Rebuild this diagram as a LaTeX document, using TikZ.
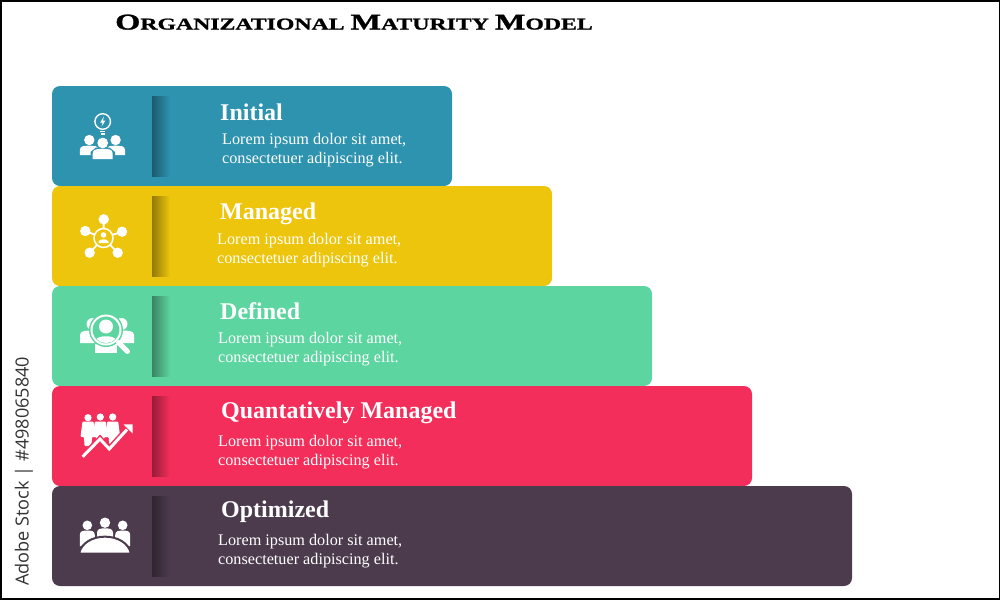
\documentclass[tikz,border=0pt]{standalone}
\usepackage{fontspec}
\usepackage{tikz}
\usetikzlibrary{positioning}
\setmainfont{Liberation Serif}
\newfontfamily\headfont{Liberation Serif Bold}[FakeStretch=1.44, FakeBold=1.2]
\newfontfamily\stockfont{Open Sans}

\definecolor{tealbar}{HTML}{2D93AF}
\definecolor{yellowbar}{HTML}{ECC50C}
\definecolor{greenbar}{HTML}{5DD5A0}
\definecolor{redbar}{HTML}{F42E5A}
\definecolor{plumbar}{HTML}{4C3B4D}

\tikzset{
  tier/.style={rectangle, rounded corners=8pt, minimum height=100pt, inner sep=0pt, outer sep=0pt},
  band/.style={rectangle, minimum width=18pt, minimum height=80pt, inner sep=0pt, outer sep=0pt},
  heading/.style={anchor=base west, inner sep=0pt, text=white, font=\fontsize{24}{24}\selectfont\bfseries},
  lorem/.style={anchor=west, inner sep=0pt, text=white, align=left, font=\fontsize{16.2}{19}\selectfont}
}

% head and shoulders of one person: x, y of the head, head radius, half width, body bottom
\newcommand{\personicon}[5]{
  \fill[white] (#1,#2) circle (#3);
  \fill[white] ({#1-#4},#5) -- ({#1-#4},{#2+#3+5}) .. controls ({#1-#4},{#2+#3+0.5}) and ({#1-#4*0.5},{#2+#3+0.5}) .. (#1,{#2+#3+0.5})
    .. controls ({#1+#4*0.5},{#2+#3+0.5}) and ({#1+#4},{#2+#3+0.5}) .. ({#1+#4},{#2+#3+5}) -- ({#1+#4},#5) -- cycle;
}
% standing figure of the rising group
\newcommand{\figureicon}[3]{
  \fill[white] (#1,#2) circle (3.6);
  \fill[white, rounded corners=1pt] ({#1-5.5},421.5) -- ({#1+5.5},421.5) -- ({#1+7.5},437) -- ({#1+4},437) -- ({#1+3.5},#3) -- ({#1-3.5},#3) -- ({#1-4},437) -- ({#1-7.5},437) -- cycle;
}

\begin{document}
\begin{tikzpicture}[x=1pt, y=-1pt]
  \useasboundingbox (0,0) rectangle (1000,600);

  % Stacked tiers
  \node (initial) [tier, fill=tealbar, minimum width=400pt, anchor=north west] at (52,86) {};
  \node (managed) [tier, fill=yellowbar, minimum width=500pt, below=0pt of initial.south west, anchor=north west] {};
  \node (defined) [tier, fill=greenbar, minimum width=600pt, below=0pt of managed.south west, anchor=north west] {};
  \node (quantitative) [tier, fill=redbar, minimum width=700pt, below=0pt of defined.south west, anchor=north west] {};
  \node (optimized) [tier, fill=plumbar, minimum width=800pt, below=0pt of quantitative.south west, anchor=north west] {};

  % Shaded bands
  \node (initialband) [band, right=100pt of initial.west, anchor=west, left color=tealbar!62!black, middle color=tealbar!78!black, right color=tealbar] {};
  \node (managedband) [band, right=100pt of managed.west, anchor=west, left color=yellowbar!62!black, middle color=yellowbar!78!black, right color=yellowbar] {};
  \node (definedband) [band, right=100pt of defined.west, anchor=west, left color=greenbar!62!black, middle color=greenbar!78!black, right color=greenbar] {};
  \node (quantitativeband) [band, right=100pt of quantitative.west, anchor=west, left color=redbar!62!black, middle color=redbar!78!black, right color=redbar] {};
  \node (optimizedband) [band, right=100pt of optimized.west, anchor=west, left color=plumbar!62!black, middle color=plumbar!78!black, right color=plumbar] {};

  % Title and stock line
  \node (title) [anchor=base west, inner sep=0pt, font=\headfont\fontsize{16.5}{16}\selectfont] at (115,29.5)
    {{\fontsize{22.5}{20}\selectfont O}RGANIZATIONAL {\fontsize{22.5}{20}\selectfont M}ATURITY {\fontsize{22.5}{20}\selectfont M}ODEL};
  \node (stock) [rotate=90, anchor=west, inner sep=0pt, text=black!80, font=\stockfont\fontsize{18.1}{18}\selectfont] at (24,586) {Adobe Stock | \#498065840};

  % Headings and body texts
  \node (initialhead) [heading] at (220,120) {Initial};
  \node (initialtext) [lorem] at (222,150) {Lorem ipsum dolor sit amet,\\consectetuer adipiscing elit.};
  \node (managedhead) [heading] at (220,219) {Managed};
  \node (managedtext) [lorem] at (217,250) {Lorem ipsum dolor sit amet,\\consectetuer adipiscing elit.};
  \node (definedhead) [heading] at (220,319) {Defined};
  \node (definedtext) [lorem] at (218,349) {Lorem ipsum dolor sit amet,\\consectetuer adipiscing elit.};
  \node (quantitativehead) [heading] at (221,418) {Quantatively Managed};
  \node (quantitativetext) [lorem] at (218,452) {Lorem ipsum dolor sit amet,\\consectetuer adipiscing elit.};
  \node (optimizedhead) [heading] at (221,517) {Optimized};
  \node (optimizedtext) [lorem] at (218,551) {Lorem ipsum dolor sit amet,\\consectetuer adipiscing elit.};

  % Icon: bulb over a group
  \draw[white, line width=1.4pt] (102.7,121.5) circle (7.8);
  \fill[white] (100.2,130.5) rectangle (105.2,132.2);
  \fill[white] (101,133.2) rectangle (104.5,134.8);
  \fill[white] (103.8,116.5) -- (100.2,122.5) -- (102.6,122.5) -- (101.6,126.5) -- (105.4,120.5) -- (103,120.5) -- cycle;
  \personicon{89.3}{140}{5.2}{9.5}{155}
  \personicon{115.6}{140}{5.2}{9.5}{155}
  \fill[tealbar] (102.7,143) circle (6.8);
  \fill[tealbar] (90.5,160) -- (90.5,152) -- (96,147.5) -- (109.5,147.5) -- (115,152) -- (115,160) -- cycle;
  \personicon{102.7}{143}{5.4}{10}{159}

  % Icon: linked network
  \draw[white, line width=1.8pt] (103.5,238) -- (103.7,219.3) (103.5,238) -- (85.3,231) (103.5,238) -- (122,231.7) (103.5,238) -- (89.7,252.7) (103.5,238) -- (117.7,252.7);
  \foreach \hubx/\huby in {103.7/219.3, 85.3/231, 122/231.7, 89.7/252.7, 117.7/252.7}
    \fill[white] (\hubx,\huby) circle (5.2);
  \fill[yellowbar] (103.5,238) circle (9.5);
  \draw[white, line width=1.5pt] (103.5,238) circle (9.5);
  \fill[white] (103.5,235) circle (2.8);
  \fill[white] (98.5,243) -- (98.5,241.5) .. controls (99,238.5) and (108,238.5) .. (108.5,241.5) -- (108.5,243) -- cycle;

  % Icon: magnifier over people
  \personicon{92.5}{324}{6}{12.5}{343}
  \personicon{121.5}{324}{6}{12.5}{343}
  \fill[white] (95,344) rectangle (117,352.5);
  \fill[greenbar] (106,330) circle (17);
  \fill[white] (106,326.5) circle (7);
  \begin{scope}
    \clip (106,330) circle (13);
    \fill[white] (96,346) -- (96,340) .. controls (97,335) and (115,335) .. (116,340) -- (116,346) -- cycle;
  \end{scope}
  \draw[white, line width=2pt] (106,330) circle (14.5);
  \draw[white, line width=5pt, line cap=round] (118.5,342.5) -- (127.5,351.5);

  % Icon: figures over a rising arrow
  \figureicon{88}{417.7}{446}
  \figureicon{100.3}{417}{441}
  \figureicon{112.7}{417}{444}
  \draw[redbar, line width=6pt] (82.7,456.7) -- (100,439) -- (109.3,449) -- (127,429.5);
  \draw[white, line width=3pt] (82.7,456.7) -- (100,439) -- (109.3,449) -- (127,429.5);
  \fill[white] (123.5,424.3) -- (132.7,424.3) -- (132.7,433.5) -- cycle;

  % Icon: people round a table
  \personicon{87.3}{525.3}{4.8}{7.5}{546}
  \personicon{122.7}{525.3}{4.8}{7.5}{546}
  \personicon{105}{522.7}{5.2}{8}{538}
  \fill[white, draw=plumbar, line width=2pt] (79,553.6) .. controls (84,531) and (126,531) .. (131,553.6) -- cycle;

  % Frame
  \draw[black, line width=2pt] (1,1) rectangle (999.5,599);

\end{tikzpicture}
\end{document}
